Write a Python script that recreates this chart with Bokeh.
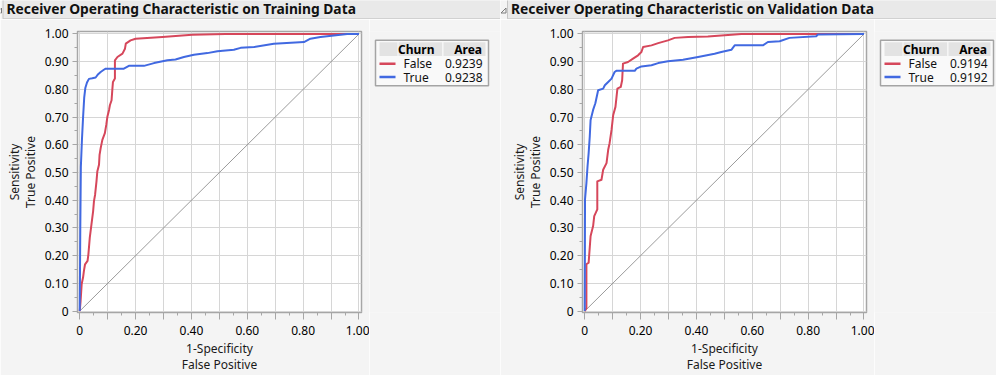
from bokeh.plotting import figure
from bokeh.layouts import row, column
from bokeh.models import Range1d, FixedTicker, CustomJSTickFormatter, ColumnDataSource
from bokeh.core.properties import value
from bokeh.embed import file_html
from bokeh.resources import INLINE

FONT = "Noto Sans"
RED = "#d6475b"
BLUE = "#4169e1"
BG = "#f4f4f4"

# ---------------- data ----------------
churn_classes = ["False", "True"]
train_areas = ["0.9239", "0.9238"]
valid_areas = ["0.9194", "0.9192"]

train_false_fpr = [0, 0.003, 0.007, 0.012, 0.015, 0.019, 0.028, 0.031, 0.036, 0.042, 0.048, 0.051, 0.055,
                   0.060, 0.063, 0.069, 0.071, 0.075, 0.081, 0.090, 0.095, 0.099, 0.105, 0.108, 0.114,
                   0.117, 0.119, 0.126, 0.126, 0.135, 0.153, 0.162, 0.165, 0.182, 0.200, 0.296, 0.403,
                   0.522, 0.700, 0.850, 1.0]
train_false_tpr = [0, 0.035, 0.098, 0.122, 0.145, 0.169, 0.181, 0.205, 0.265, 0.313, 0.361, 0.397, 0.420,
                   0.468, 0.504, 0.528, 0.564, 0.588, 0.618, 0.642, 0.672, 0.701, 0.726, 0.743, 0.761,
                   0.803, 0.827, 0.839, 0.905, 0.917, 0.929, 0.947, 0.965, 0.977, 0.983, 0.989, 0.997,
                   1.0, 1.0, 1.0, 1.0]

train_true_fpr = [0, 0.002, 0.004, 0.008, 0.012, 0.016, 0.020, 0.026, 0.033, 0.045, 0.057, 0.066, 0.075,
                  0.085, 0.093, 0.158, 0.176, 0.230, 0.266, 0.314, 0.343, 0.373, 0.409, 0.457, 0.493,
                  0.552, 0.576, 0.624, 0.695, 0.803, 0.826, 0.862, 0.958, 1.0]
train_true_tpr = [0, 0.300, 0.520, 0.620, 0.700, 0.770, 0.805, 0.825, 0.838, 0.840, 0.843, 0.855, 0.863,
                  0.870, 0.875, 0.875, 0.885, 0.885, 0.895, 0.905, 0.908, 0.917, 0.925, 0.931, 0.938,
                  0.943, 0.950, 0.953, 0.965, 0.971, 0.983, 0.989, 1.0, 1.0]

valid_false_fpr = [0, 0.006, 0.006, 0.014, 0.021, 0.030, 0.034, 0.045, 0.045, 0.060, 0.066, 0.078, 0.084,
                   0.089, 0.096, 0.102, 0.110, 0.117, 0.129, 0.134, 0.137, 0.155, 0.173, 0.191, 0.203,
                   0.209, 0.239, 0.263, 0.298, 0.322, 0.370, 0.441, 0.489, 0.561, 1.0]
valid_false_tpr = [0, 0.010, 0.169, 0.175, 0.271, 0.307, 0.343, 0.367, 0.468, 0.474, 0.510, 0.534, 0.582,
                   0.606, 0.654, 0.708, 0.737, 0.803, 0.809, 0.833, 0.893, 0.899, 0.911, 0.923, 0.935,
                   0.953, 0.959, 0.967, 0.977, 0.986, 0.989, 0.991, 0.995, 1.0, 1.0]

valid_true_fpr = [0, 0.001, 0.006, 0.010, 0.014, 0.018, 0.021, 0.030, 0.038, 0.048, 0.066, 0.072, 0.084,
                  0.096, 0.107, 0.113, 0.179, 0.185, 0.203, 0.239, 0.263, 0.298, 0.352, 0.406, 0.465,
                  0.489, 0.525, 0.537, 0.638, 0.656, 0.698, 0.733, 0.829, 0.835, 1.0]
valid_true_tpr = [0, 0.403, 0.462, 0.522, 0.570, 0.630, 0.690, 0.726, 0.750, 0.797, 0.803, 0.815, 0.827,
                  0.839, 0.863, 0.867, 0.867, 0.875, 0.883, 0.887, 0.895, 0.902, 0.907, 0.917, 0.929,
                  0.935, 0.943, 0.959, 0.959, 0.971, 0.974, 0.986, 0.992, 0.998, 1.0]

diag = [0, 1]

x_major_ticks = [0, 0.1, 0.2, 0.3, 0.4, 0.5, 0.6, 0.7, 0.8, 0.9, 1.0]
x_minor_ticks = [0.05, 0.15, 0.25, 0.35, 0.45, 0.55, 0.65, 0.75, 0.85, 0.95]
y_major_ticks = x_major_ticks
y_minor_ticks = x_minor_ticks

colors = [RED, BLUE]

TITLE_H = 19
MAIN_H = 356
FRAME_W = 284
BORDER_R = 8
BOX_W = 113


def title_fig(text, width, shift):
    t = figure(width=width, height=TITLE_H, x_range=Range1d(0, width), y_range=Range1d(TITLE_H, 0),
               x_axis_location=None, y_axis_location=None, toolbar_location=None,
               output_backend="svg", min_border=0)
    t.grid.visible = False
    t.outline_line_color = None
    t.background_fill_color = BG
    t.border_fill_color = BG
    t.quad(left=[7 + shift], right=[width + 10], top=[-3], bottom=[18.3],
           fill_color="#e9e9e9", line_color="#c6c6c6", line_width=1)
    t.patch([0.5 + shift, 5.5 + shift, 5.5 + shift], [12.5, 12.5, 7.5], fill_color=None,
            line_color="#7a7a7a", line_width=1)
    t.text(x=[10.5 + shift], y=[8.3], text=[text], text_font=value(FONT), text_font_style="bold",
           text_font_size="13.8px", text_baseline="middle", text_color="#111111")
    return t


def roc_fig(border_left, series):
    p = figure(width=border_left + FRAME_W + BORDER_R, height=MAIN_H,
               x_range=Range1d(-0.008, 1.009), y_range=Range1d(-0.005, 1.009),
               toolbar_location=None, output_backend="svg",
               min_border_left=border_left, min_border_right=BORDER_R,
               min_border_top=12, min_border_bottom=MAIN_H - 12 - 282)
    p.background_fill_color = "white"
    p.border_fill_color = BG
    p.outline_line_color = "#a6a6a6"
    p.outline_line_width = 1.5

    p.xaxis.ticker = FixedTicker(ticks=x_major_ticks, minor_ticks=x_minor_ticks)
    p.yaxis.ticker = FixedTicker(ticks=y_major_ticks, minor_ticks=y_minor_ticks)
    p.xaxis.formatter = CustomJSTickFormatter(code="""
        const r = Math.round(tick * 100);
        if (r === 0) return "0";
        if (r % 20 !== 0) return "";
        return (r / 100).toFixed(2);
    """)
    p.yaxis.formatter = CustomJSTickFormatter(code="""
        const r = Math.round(tick * 100);
        return r === 0 ? "0" : (r / 100).toFixed(2);
    """)
    for ax in (p.xaxis[0], p.yaxis[0]):
        ax.axis_line_color = "#a6a6a6"
        ax.major_tick_line_color = "#a6a6a6"
        ax.minor_tick_line_color = "#a6a6a6"
        ax.major_tick_in = 0
        ax.minor_tick_in = 0
        ax.minor_tick_out = 3
        ax.major_label_text_font = FONT
        ax.major_label_text_font_size = "12px"
        ax.major_label_text_color = "#000000"
        ax.axis_label_text_font = FONT
        ax.axis_label_text_font_size = "12px"
        ax.axis_label_text_font_style = "normal"
        ax.axis_label_text_color = "#1a1a1a"
        ax.axis_label_text_line_height = 0.95
    p.xaxis.major_tick_out = 7
    p.yaxis.major_tick_out = 5
    p.xaxis.major_label_standoff = 6
    p.yaxis.major_label_standoff = 4
    p.xaxis.axis_label_standoff = 2
    p.yaxis.axis_label_standoff = 3
    p.xaxis.axis_label = "1-Specificity\nFalse Positive"
    p.yaxis.axis_label = "Sensitivity\nTrue Positive"

    p.grid.grid_line_color = "#d6d6d6"
    p.grid.grid_line_width = 1

    p.line(diag, diag, line_color="#8f8f8f", line_width=0.9)
    for (fx, ty), c in zip(series, colors):
        p.line(fx, ty, line_color=c, line_width=2, line_join="round")
    return p


def legend_fig(width, areas):
    lg = figure(width=width, height=MAIN_H, x_range=Range1d(0, width), y_range=Range1d(MAIN_H, 0),
                x_axis_location=None, y_axis_location=None, toolbar_location=None,
                output_backend="svg", min_border=0)
    lg.grid.visible = False
    lg.outline_line_color = None
    lg.background_fill_color = BG
    lg.border_fill_color = BG
    x0 = 6
    lg.quad(left=[x0], right=[x0 + BOX_W], top=[11], bottom=[68.7], fill_color="#f9f9f9",
            line_color="#a4a4a4", line_width=1.5)
    lg.quad(left=[x0 + 4, x0 + 23, x0 + 68], right=[x0 + 22, x0 + 66.7, x0 + BOX_W - 3],
            top=[13.7] * 3, bottom=[31] * 3, fill_color="#e3e3e3", line_color=None)
    lg.text(x=[x0 + 40.7], y=[22.6], text=["Churn"], text_font=value(FONT), text_font_style="bold",
            text_font_size="12px", text_align="center", text_baseline="middle", text_color="#000000")
    lg.text(x=[x0 + BOX_W - 6.5], y=[22.6], text=["Area"], text_font=value(FONT), text_font_style="bold",
            text_font_size="12px", text_align="right", text_baseline="middle", text_color="#000000")
    src = ColumnDataSource(dict(label=churn_classes, area=areas, color=colors, y=[41, 57.7]))
    lg.segment(x0=x0 + 4, x1=x0 + 20, y0="y", y1="y", line_color="color", line_width=2.5, source=src)
    lg.text(x=x0 + 28, y="y", text="label", text_font=value(FONT), text_font_size="12px",
            text_baseline="middle", text_color="#111111", source=src)
    lg.text(x=x0 + BOX_W - 6, y="y", text="area", text_font=value(FONT), text_font_size="12px",
            text_align="right", text_baseline="middle", text_color="#111111", source=src)
    return lg


def panel(title, series, areas, width, shift, border_left):
    main = roc_fig(border_left, series)
    leg = legend_fig(width - (border_left + FRAME_W + BORDER_R), areas)
    return column(title_fig(title, width, shift), row(main, leg))


left = panel("Receiver Operating Characteristic on Training Data",
             [(train_false_fpr, train_false_tpr), (train_true_fpr, train_true_tpr)],
             train_areas, 500, -4.5, 77)
right = panel("Receiver Operating Characteristic on Validation Data",
              [(valid_false_fpr, valid_false_tpr), (valid_true_fpr, valid_true_tpr)],
              valid_areas, 496, 0, 82)

layout = row(left, right)

with open("out.html", "w") as f:
    f.write(file_html(layout, INLINE))
